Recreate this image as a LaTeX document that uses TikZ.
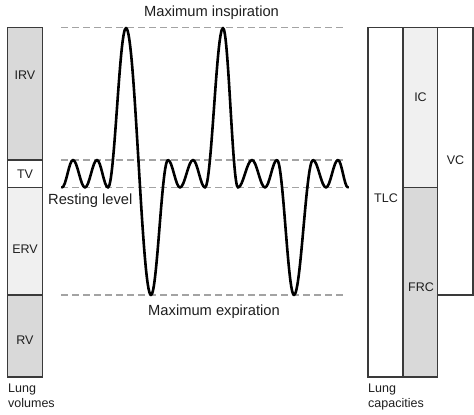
\documentclass[tikz,border=0pt]{standalone}
\usepackage{fontspec}
\setmainfont{Liberation Sans}
\definecolor{midfill}{HTML}{D9D9D9}
\definecolor{lightfill}{HTML}{F0F0F0}
\definecolor{barline}{HTML}{3A3A3A}
\definecolor{guidegray}{HTML}{A3A3A3}
\definecolor{txt}{HTML}{1E1E1E}
\tikzset{
  bar/.style={draw=barline, line width=1.5pt},
  guide/.style={draw=guidegray, line width=1.3pt, dash pattern=on 6.5pt off 4.5pt},
  wave/.style={draw=black, line width=2.6pt, line join=round, line cap=round},
  lbl/.style={font=\fontsize{12.5}{14.3}\selectfont, text=txt, inner sep=0pt},
  big/.style={font=\fontsize{14.7}{17}\selectfont, text=txt, inner sep=0pt},
}
\begin{document}
\begin{tikzpicture}[x=1pt,y=-1pt]
\useasboundingbox (0,0) rectangle (474,415);
% guide lines
\coordinate (g1a) at (61,27.5);  \coordinate (g1b) at (345,27.5);
\coordinate (g2a) at (61,160);   \coordinate (g2b) at (345,160);
\coordinate (g3a) at (61,187.5); \coordinate (g3b) at (345,187.5);
\coordinate (g4a) at (61,295);   \coordinate (g4b) at (345,295);
\draw[guide] (g1a) -- (g1b);
\draw[guide] (g2a) -- (g2b);
\draw[guide] (g3a) -- (g3b);
\draw[guide] (g4a) -- (g4b);
% lung volumes bar
\draw[bar, fill=midfill]   (7.5,27.5) rectangle (42.5,160);
\draw[bar, fill=white]     (7.5,160) rectangle (42.5,187.5);
\draw[bar, fill=lightfill] (7.5,187.5) rectangle (42.5,295);
\draw[bar, fill=midfill]   (7.5,295) rectangle (42.5,377);
% lung capacities bars
\draw[bar, fill=white]     (368,27.5) rectangle (403,377);
\draw[bar, fill=lightfill] (403,27.5) rectangle (437.5,187.5);
\draw[bar, fill=midfill]   (403,187.5) rectangle (437.5,377);
\draw[bar, fill=white]     (437.5,27.5) rectangle (473,295);
% labels
\node[lbl] (irv) at (25,75) {IRV};
\node[lbl] (tv) at (25,174) {TV};
\node[lbl] (erv) at (25,249) {ERV};
\node[lbl] (rv) at (25,340.5) {RV};
\node[lbl] (ic) at (420.5,97) {IC};
\node[lbl] (vc) at (455.5,160) {VC};
\node[lbl] (tlc) at (386,198) {TLC};
\node[lbl] (frc) at (421,287) {FRC};
\node[lbl, anchor=north west, align=left] (lv) at (8,384) {Lung\\volumes};
\node[lbl, anchor=north west, align=left] (lc) at (368,384) {Lung\\capacities};
\node[big, anchor=base] (maxin) at (211.5,16.7) {Maximum inspiration};
\node[big, anchor=base] (maxex) at (214,315) {Maximum expiration};
\node[big, anchor=base west] (rest) at (48,204) {Resting level};
% spirogram
\draw[wave] (62,187.5)
  cos (67.5,173.75) sin (73,160)
  cos (79,173.75) sin (85,187.5)
  cos (91,173.75) sin (97,160)
  cos (102.5,173.75) sin (108,187.5)
  cos (117,107.75) sin (126,28)
  cos (138.5,161.5) sin (151,295)
  cos (159.5,227.5) sin (168,160)
  cos (174,173.75) sin (180,187.5)
  cos (186.5,173.75) sin (193,160)
  cos (199,173.75) sin (205,187.5)
  cos (214,107.75) sin (223,28)
  cos (230.5,107.75) sin (238,187.5)
  cos (245,173.75) sin (252,160)
  cos (258.5,173.75) sin (265,187.5)
  cos (271,173.75) sin (277,160)
  cos (285.5,227.5) sin (294,295)
  cos (303.5,227.5) sin (313,160)
  cos (319.5,173.75) sin (326,187.5)
  cos (332,173.75) sin (338,160)
  cos (343,173.75) sin (348,187.5);
\end{tikzpicture}
\end{document}
